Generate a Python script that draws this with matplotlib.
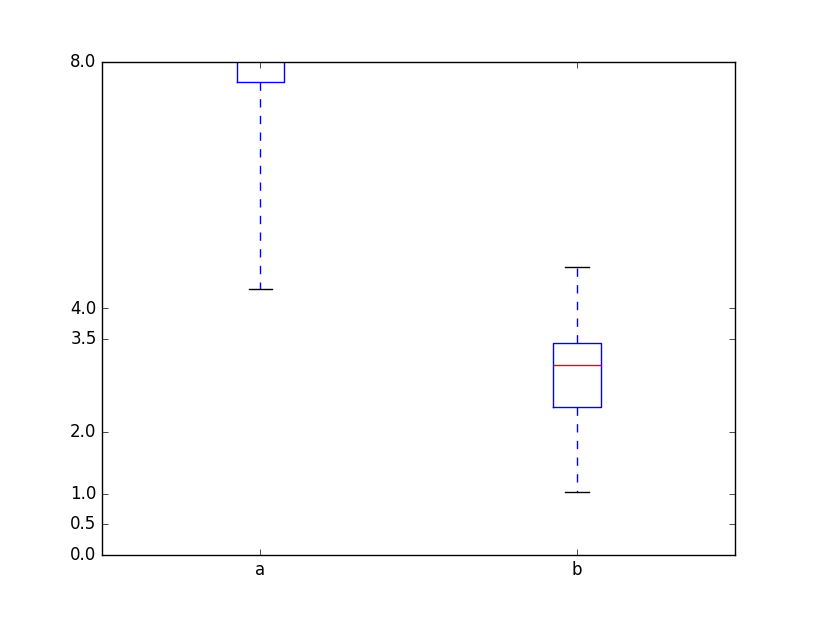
import matplotlib
matplotlib.use('Agg')
import matplotlib.pyplot as plt

labels = ['a', 'b']
whislo = [4.31, 1.02]
q1 = [7.67, 2.40]
med = [8.3, 3.08]
q3 = [8.6, 3.44]
whishi = [9.5, 4.67]
yticks = [0.0, 0.5, 1.0, 2.0, 3.5, 4.0, 8.0]

def main():
    plt.style.use('classic')
    fig = plt.figure(figsize=(8.17, 6.17), dpi=100)
    ax = fig.add_subplot(111)
    stats = []
    for i in range(len(labels)):
        stats.append({'label': labels[i], 'whislo': whislo[i], 'q1': q1[i],
                      'med': med[i], 'q3': q3[i], 'whishi': whishi[i],
                      'fliers': []})
    ax.bxp(stats)
    ax.set_ylim(0, 8)
    ax.set_yticks(yticks)
    ax.set_yticklabels(['%.1f' % t for t in yticks])
    fig.savefig('out.png', dpi=100)

if __name__ == '__main__':
    main()
